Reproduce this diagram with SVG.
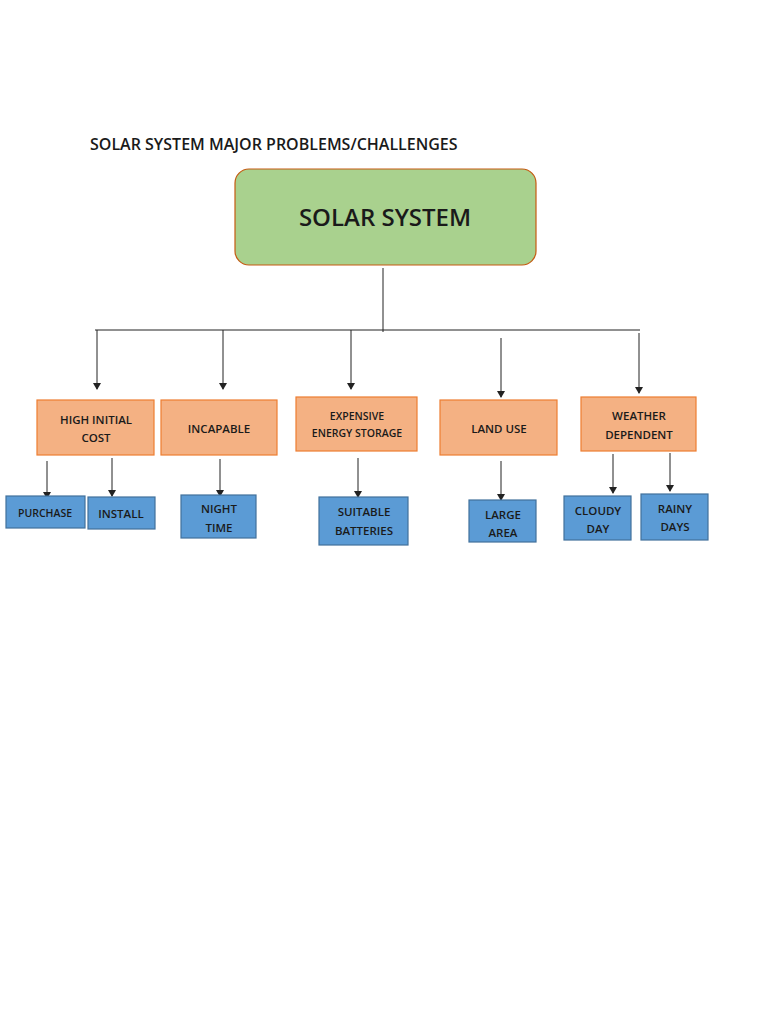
<svg xmlns="http://www.w3.org/2000/svg" width="768" height="1024" viewBox="0 0 768 1024">
<style>
text{font-family:"Open Sans","Liberation Sans",sans-serif;font-weight:600;fill:#1a1a1a;text-anchor:middle}
.o{fill:#f4b183;stroke:#ed7d31;stroke-width:1.2}
.b{fill:#5b9bd5;stroke:#41719c;stroke-width:1.2}
.l{stroke:#222;stroke-width:1;fill:none}
.a{stroke:#222;stroke-width:1;fill:none;marker-end:url(#ar)}
.s{font-size:11.5px}
</style>
<defs><marker id="ar" markerWidth="8" markerHeight="8" refX="6" refY="4" orient="auto" markerUnits="userSpaceOnUse"><path d="M0,0 L7,4 L0,8 z" fill="#222"/></marker></defs>
<rect width="768" height="1024" fill="#fff"/>
<text x="90" y="150" style="text-anchor:start;font-size:16px">SOLAR SYSTEM MAJOR PROBLEMS/CHALLENGES</text>
<g id="connectors">
<path class="l" d="M383 268V332M95 330H640"/>
<path class="a" d="M97 330V389"/><path class="a" d="M223 330V389"/><path class="a" d="M351 330V389"/>
<path class="a" d="M501 338V397"/><path class="a" d="M639 333V393"/>
<path class="a" d="M47 461V498"/><path class="a" d="M112 458V496"/><path class="a" d="M220 459V496"/>
<path class="a" d="M358 458V497"/><path class="a" d="M501 461V500"/><path class="a" d="M613 454V493"/><path class="a" d="M670 453V491"/>
</g>
<g id="solar"><rect x="235" y="169" width="301" height="96" rx="14" fill="#a9d18e" stroke="#c55a11" stroke-width="1.2"/><text x="385" y="226" style="font-size:24px">SOLAR SYSTEM</text></g>
<g id="hic"><rect class="o" x="37" y="400" width="117" height="55"/><text class="s" x="96" y="424">HIGH INITIAL</text><text class="s" x="96" y="442">COST</text></g>
<g id="incapable"><rect class="o" x="161" y="400" width="116" height="55"/><text class="s" x="219" y="433">INCAPABLE</text></g>
<g id="storage"><rect class="o" x="296" y="397" width="121" height="54"/><text x="357" y="420" style="font-size:10.5px">EXPENSIVE</text><text x="357" y="437" style="font-size:10.5px">ENERGY STORAGE</text></g>
<g id="land"><rect class="o" x="440" y="400" width="117" height="55"/><text class="s" x="499" y="433">LAND USE</text></g>
<g id="weather"><rect class="o" x="581" y="397" width="115" height="54"/><text class="s" x="639" y="420">WEATHER</text><text class="s" x="639" y="439">DEPENDENT</text></g>
<g id="purchase"><rect class="b" x="6" y="496" width="79" height="32"/><text x="45" y="517" style="font-size:10.5px">PURCHASE</text></g>
<g id="install"><rect class="b" x="88" y="497" width="67" height="32"/><text class="s" x="121" y="518">INSTALL</text></g>
<g id="night"><rect class="b" x="181" y="495" width="75" height="43"/><text class="s" x="219" y="513">NIGHT</text><text class="s" x="219" y="532">TIME</text></g>
<g id="batteries"><rect class="b" x="319" y="497" width="89" height="48"/><text class="s" x="364" y="516">SUITABLE</text><text class="s" x="364" y="535">BATTERIES</text></g>
<g id="area"><rect class="b" x="469" y="500" width="67" height="42"/><text class="s" x="503" y="519">LARGE</text><text class="s" x="503" y="537">AREA</text></g>
<g id="cloudy"><rect class="b" x="564" y="496" width="67" height="44"/><text class="s" x="598" y="515">CLOUDY</text><text class="s" x="598" y="533">DAY</text></g>
<g id="rainy"><rect class="b" x="641" y="494" width="67" height="46"/><text class="s" x="675" y="513">RAINY</text><text class="s" x="675" y="531">DAYS</text></g>
</svg>
